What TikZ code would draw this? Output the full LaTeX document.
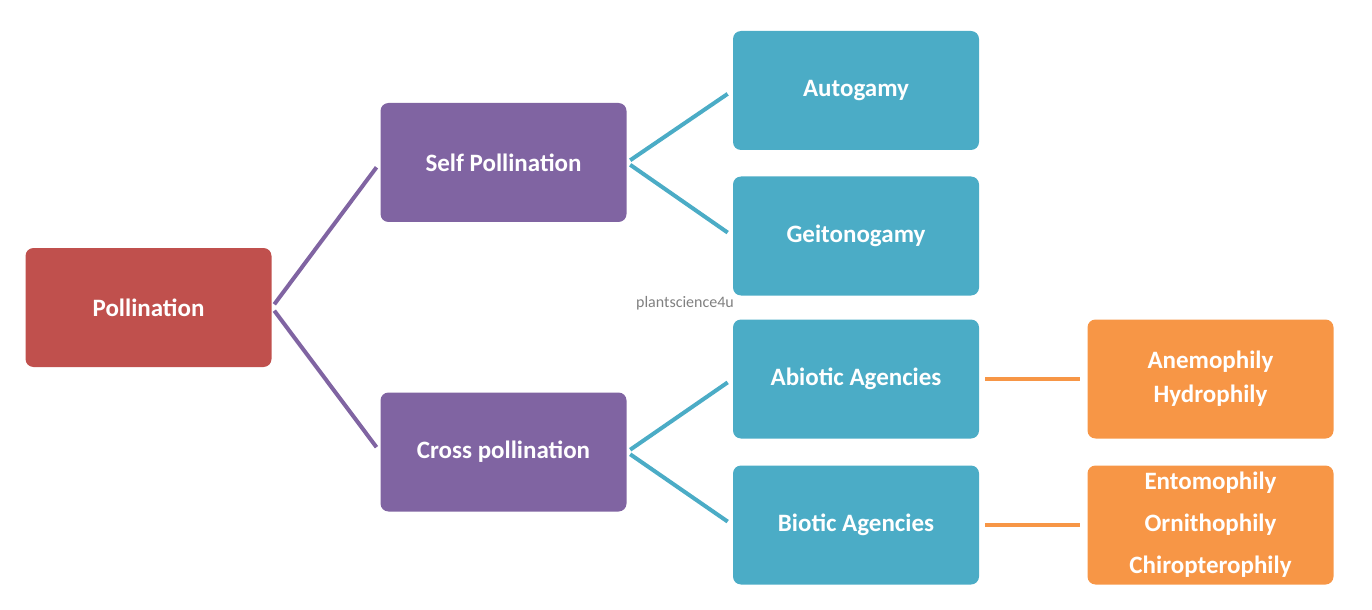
\documentclass[tikz,border=0pt]{standalone}
\usepackage{fontspec}
\setmainfont{Carlito}
\definecolor{cred}{HTML}{C0504D}
\definecolor{cpur}{HTML}{8064A2}
\definecolor{cteal}{HTML}{4BACC6}
\definecolor{corg}{HTML}{F79646}
\begin{document}
\begin{tikzpicture}[x=0.5pt,y=-0.5pt,
 box/.style={rounded corners=4pt,minimum width=123pt,minimum height=59.5pt,text=white,font=\fontsize{12.5}{17}\selectfont\bfseries,align=center,inner sep=0pt},
 con/.style={line width=2pt,shorten <=2pt,shorten >=3pt}]
\useasboundingbox (0,0) rectangle (1372,610);
\node[box,fill=cred] (pol) at (148.5,307.5) {Pollination};
\node[box,fill=cpur] (self) at (503.5,162.5) {Self Pollination};
\node[box,fill=cpur] (cross) at (503.5,452) {Cross pollination};
\node[box,fill=cteal] (auto) at (856,90.5) {Autogamy};
\node[box,fill=cteal] (geit) at (856,236) {Geitonogamy};
\node[box,fill=cteal] (abio) at (856,379) {Abiotic Agencies};
\node[box,fill=cteal] (bio) at (856,525) {Biotic Agencies};
\node[box,fill=corg] (o1) at (1210.5,379) {Anemophily\\Hydrophily};
\node[box,fill=corg,font=\fontsize{12.5}{21}\selectfont\bfseries] (o2) at (1210.5,525) {Entomophily\\Ornithophily\\Chiropterophily};
\node[text=gray,font=\fontsize{8}{10}\selectfont] (wm) at (685,303) {plantscience4u};
\draw[con,cpur] (pol.east) -- (self.west);
\draw[con,cpur] (pol.east) -- (cross.west);
\draw[con,cteal] (self.east) -- (auto.west);
\draw[con,cteal] (self.east) -- (geit.west);
\draw[con,cteal] (cross.east) -- (abio.west);
\draw[con,cteal] (cross.east) -- (bio.west);
\draw[line width=2pt,corg,shorten <=3pt,shorten >=3.5pt] (abio.east) -- (o1.west);
\draw[line width=2pt,corg,shorten <=3pt,shorten >=3.5pt] (bio.east) -- (o2.west);
\end{tikzpicture}
\end{document}
